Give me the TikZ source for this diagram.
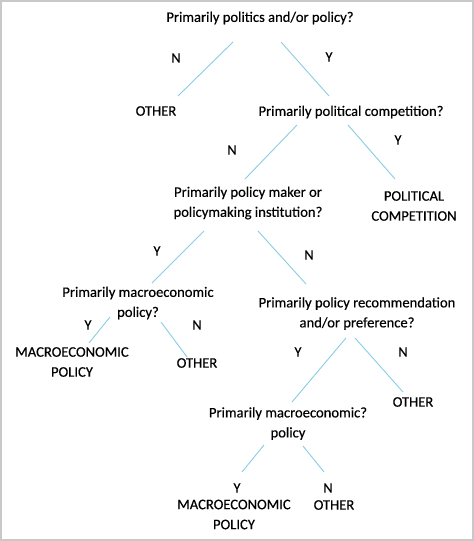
\documentclass[tikz,border=0pt]{standalone}
\usepackage{fontspec}
\setmainfont{Carlito}[FakeBold=0.35]
\usepackage{xcolor}
\usepackage{tikz}
\usetikzlibrary{calc}
\definecolor{linkblue}{RGB}{135,204,228}
\definecolor{framegray}{RGB}{200,200,200}

\begin{document}
\begin{tikzpicture}[
x=1pt,
y=-1pt,
every node/.style={font=\fontsize{14.6}{20}\selectfont},
question/.style={align=center,inner sep=1pt},
leaf/.style={align=center,inner sep=1pt},
lbl/.style={inner sep=1pt},
link/.style={draw=linkblue,line width=0.9pt}
]
\useasboundingbox (0,0) rectangle (474,541);
\draw[framegray,line width=2pt] (1,1) rectangle (472.5,539.5);

\node[question] (root) at (260,18) {Primarily politics and/or policy?};
\node[leaf] (other1) at (156,111) {OTHER};
\node[question] (comp) at (351,112) {Primarily political competition?};
\node[question] (maker) at (248,203) {Primarily policy maker or\\policymaking institution?};
\node[leaf] (polcomp) at (414,206) {POLITICAL\\COMPETITION};
\node[question] (macro1) at (138,303) {Primarily macroeconomic\\policy?};
\node[question] (recom) at (357,313.5) {Primarily policy recommendation\\and/or preference?};
\node[leaf] (macpol1) at (72,362) {MACROECONOMIC\\POLICY};
\node[leaf] (other2) at (197,363) {OTHER};
\node[leaf] (other3) at (413,402) {OTHER};
\node[question] (macro2) at (288,423.5) {Primarily macroeconomic?\\policy};
\node[leaf] (macpol2) at (234,514.5) {MACROECONOMIC\\POLICY};
\node[leaf] (other4) at (334,505) {OTHER};

\node[lbl] (n1) at (176,58) {N};
\node[lbl] (y1) at (329,57) {Y};
\node[lbl] (n2) at (232,150) {N};
\node[lbl] (y2) at (398,140) {Y};
\node[lbl] (y3) at (157,251) {Y};
\node[lbl] (n3) at (309,255) {N};
\node[lbl] (y4) at (88,325) {Y};
\node[lbl] (n4) at (197,325) {N};
\node[lbl] (y5) at (298,352) {Y};
\node[lbl] (n5) at (403,352) {N};
\node[lbl] (y6) at (237,488) {Y};
\node[lbl] (n6) at (328,488) {N};

\draw[link] ([shift={(-27,24)}]root.center) -- ([shift={(22,-15)}]other1.center);
\draw[link] ([shift={(21,24)}]root.center) -- ([shift={(-22,-16)}]comp.center);
\draw[link] ([shift={(-54,13)}]comp.center) -- ([shift={(-3,-24)}]maker.center);
\draw[link] ([shift={(-3,13)}]comp.center) -- ([shift={(-19,-27)}]polcomp.center);
\draw[link] ([shift={(-44,28)}]maker.center) -- ([shift={(14,-20)}]macro1.center);
\draw[link] ([shift={(10,28)}]maker.center) -- ([shift={(-51,-29.5)}]recom.center);
\draw[link] ([shift={(-28,14)}]macro1.center) -- ([shift={(17,-19)}]macpol1.center);
\draw[link] ([shift={(23,19)}]macro1.center) -- ([shift={(-10,-6)}]other2.center);
\draw[link] ([shift={(-11,24.5)}]recom.center) -- ([shift={(4,-21.5)}]macro2.center);
\draw[link] ([shift={(-2,24.5)}]recom.center) -- ([shift={(-10,-10)}]other3.center);
\draw[link] ([shift={(-24,21.5)}]macro2.center) -- ([shift={(8,-42.5)}]macpol2.center);
\draw[link] ([shift={(15,22.5)}]macro2.center) -- ([shift={(-10,-33)}]other4.center);
\end{tikzpicture}
\end{document}
